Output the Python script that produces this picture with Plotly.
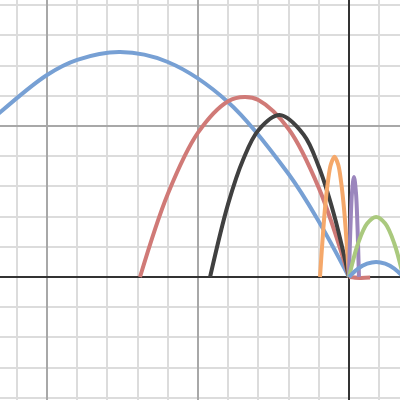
import plotly.graph_objects as go

# points, one list pair per arc
blue_x = [-11.6, -10, -9, -7.58, -6, -4, -2, -1, 0]
blue_y = [5.41, 6.69, 7.19, 7.45, 7.12, 5.79, 3.41, 1.84, 0]

red_x = [-6.92, -6, -5, -4, -3.46, -3, -2, -1, 0]
red_y = [0, 2.75, 4.78, 5.82, 5.96, 5.86, 4.9, 2.95, 0]
red_tail_x = [0, 0.35, 0.7]
red_tail_y = [0, -0.03, -0.02]

black_x = [-4.6, -4, -3.5, -3, -2.3, -1.5, -1, -0.5, 0]
black_y = [0, 2.43, 3.9, 4.86, 5.36, 4.71, 3.65, 2.08, 0]

orange_x = [-0.96, -0.8, -0.7, -0.6, -0.48, -0.36, -0.26, -0.16, 0]
orange_y = [0, 2.21, 3.14, 3.73, 3.98, 3.73, 3.14, 2.21, 0]

purple_x = [0, 0.05, 0.1, 0.165, 0.23, 0.28, 0.33]
purple_y = [0, 1.7, 2.8, 3.31, 2.8, 1.7, 0]

green_x = [0, 0.3, 0.6, 0.9, 1.2, 1.5, 1.8]
green_y = [0, 1.11, 1.77, 1.99, 1.77, 1.11, 0]

blue2_x = [0, 0.3, 0.6, 0.9, 1.2, 1.5, 1.8]
blue2_y = [0, 0.28, 0.44, 0.5, 0.44, 0.28, 0]

arcs = [
    (blue_x, blue_y, '#77a0d4'),
    (red_x, red_y, '#d07a77'),
    (red_tail_x, red_tail_y, '#d07a77'),
    (black_x, black_y, '#404040'),
    (orange_x, orange_y, '#f5a86a'),
    (purple_x, purple_y, '#9b86bd'),
    (green_x, green_y, '#aac97e'),
    (blue2_x, blue2_y, '#77a0d4'),
]

fig = go.Figure()
for x, y, c in arcs:
    fig.add_trace(go.Scatter(x=x, y=y, mode='lines',
                             line=dict(color=c, width=4, shape='spline'),
                             hoverinfo='skip'))

axis = dict(showticklabels=False, ticks='', dtick=5, tick0=0,
            gridcolor='#a8a8a8', gridwidth=1.5,
            minor=dict(dtick=1, gridcolor='#dcdcdc', gridwidth=1.5, showgrid=True),
            zeroline=True, zerolinecolor='#333333', zerolinewidth=2,
            showline=False, fixedrange=True)

fig.update_layout(
    width=400, height=400,
    margin=dict(l=0, r=0, t=0, b=0),
    paper_bgcolor='white', plot_bgcolor='white',
    showlegend=False,
    xaxis=dict(axis, range=[-11.556, 1.689]),
    yaxis=dict(axis, range=[-4.073, 9.172]),
)

# drop the page's default body margin so the plot sits at the corner
fig.write_html("out.html", config={'displayModeBar': False},
               post_script="document.body.style.margin='0';")
